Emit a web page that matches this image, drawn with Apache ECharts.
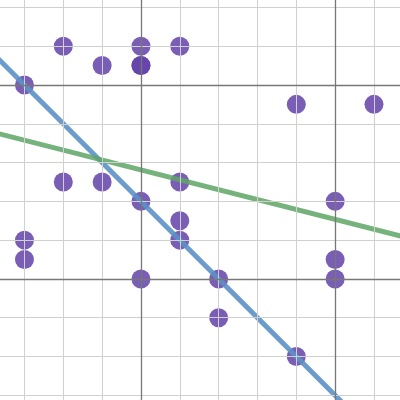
<!DOCTYPE html>
<html>
<head>
<meta charset="utf-8">
<script src="https://cdn.jsdelivr.net/npm/echarts@6/dist/echarts.min.js"></script>
<style>html,body{margin:0;padding:0;background:#fff}#c{width:400px;height:400px}</style>
</head>
<body>
<div id="c"></div>
<script>
// scatter points (x, y)
const points = [
  [-2, 6], [0, 6], [1, 6], [-1, 5.5], [0, 5.5], [0, 5.5], [-3, 5], [4, 4.5], [6, 4.5],
  [-2, 2.5], [-1, 2.5], [1, 2.5], [0, 2], [1, 1.5], [1, 1], [-3, 1], [-3, 0.5],
  [5, 2], [5, 0.5], [5, 0], [0, 0], [2, 0], [2, -1], [4, -2]
];
// fitted lines (endpoints)
const blueLine = [[-5, 7], [8, -6]];
const greenLine = [[-5, 4.085], [8, 0.77]];
// grid positions
const gridX = [-3, -2, -1, 1, 2, 3, 4, 6];
const gridY = [-3, -2, -1, 1, 2, 3, 4, 6, 7];
const majorX = [0, 5];
const majorY = [0, 5];

const minorLines = gridX.map(v => ({ xAxis: v })).concat(gridY.map(v => ({ yAxis: v })));
const majorLines = majorX.map(v => ({ xAxis: v })).concat(majorY.map(v => ({ yAxis: v })));

const chart = echarts.init(document.getElementById('c'));
chart.setOption({
  animation: false,
  backgroundColor: '#fff',
  grid: { left: 0, right: 0, top: 0, bottom: 0 },
  xAxis: { type: 'value', min: -3.63, max: 6.67, show: false, splitLine: { show: false } },
  yAxis: { type: 'value', min: -3.12, max: 7.19, show: false, splitLine: { show: false } },
  series: [
    {
      type: 'line', data: [], silent: true,
      markLine: { symbol: 'none', label: { show: false }, silent: true,
        lineStyle: { color: '#d0d0d0', width: 1, type: 'solid' }, data: minorLines }
    },
    {
      type: 'line', data: [], silent: true,
      markLine: { symbol: 'none', label: { show: false }, silent: true,
        lineStyle: { color: '#777', width: 1.3, type: 'solid' }, data: majorLines }
    },
    {
      type: 'line', data: blueLine, showSymbol: false, clip: true,
      lineStyle: { color: '#5b91c6', width: 5, opacity: 0.9 }
    },
    {
      type: 'line', data: greenLine, showSymbol: false, clip: true,
      lineStyle: { color: '#5ea565', width: 5, opacity: 0.85 }
    },
    {
      type: 'scatter', data: points, symbolSize: 19,
      itemStyle: { color: '#6342a8', opacity: 0.85 }
    }
  ]
});
</script>
</body>
</html>
